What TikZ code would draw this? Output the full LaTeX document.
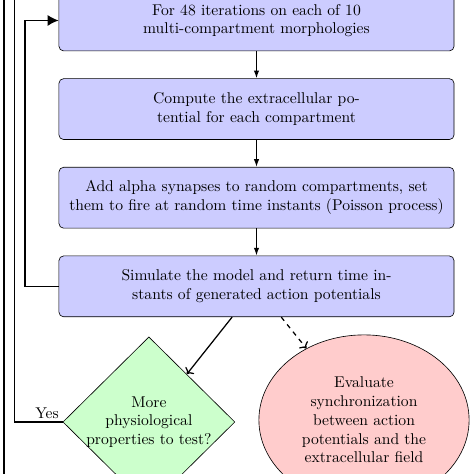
\documentclass[tikz,border=0pt]{standalone}
\usetikzlibrary{shapes.geometric, arrows.meta, positioning}

\begin{document}
\begin{tikzpicture}[
    process/.style={rectangle, draw, fill=blue!20, rounded corners=3pt, minimum width=8.89cm, minimum height=1.37cm, align=center},
    decision/.style={diamond, draw, fill=green!20, minimum width=3.87cm, minimum height=3.83cm, inner sep=-1pt, align=center},
    outcome/.style={ellipse, draw, fill=red!20, minimum width=4.73cm, minimum height=3.83cm, align=center},
    arrow/.style={-{Latex[length=5pt, width=3.5pt]}, thick},
    bigtip/.style={-{Latex[length=7pt, width=7pt]}, thick},
    flow/.style={->, thick},
    note/.style={inner sep=2pt}
]
    \useasboundingbox (0, 0) rectangle (10.665, 10.665);
    \clip (0, 0) rectangle (10.665, 10.665);

    % Main chain of steps
    \node[process] (iter) at (5.771, 10.204) {For 48 iterations on each of 10\\multi-compartment morphologies};
    \node[process, below=0.61cm of iter] (field) {Compute the extracellular po-\\tential for each compartment};
    \node[process, below=0.61cm of field] (synapse) {Add alpha synapses to random compartments, set\\them to fire at random time instants (Poisson process)};
    \node[process, below=0.61cm of synapse] (simulate) {Simulate the model and return time in-\\stants of generated action potentials};
    \draw[arrow] (iter) -- (field);
    \draw[arrow] (field) -- (synapse);
    \draw[arrow] (synapse) -- (simulate);

    % Decision and evaluation
    \node[decision] (more) at (3.35, 1.17) {More\\physiological\\properties to test?};
    \node[outcome] (evaluate) at (8.19, 1.215) {Evaluate\\synchronization\\between action\\potentials and the\\extracellular field};
    \draw[flow] (simulate) -- (more);
    \draw[flow, dashed] (simulate) -- (evaluate);

    % Loops back on the left
    \draw[bigtip] (simulate.west) -- ++(-0.754, 0) |- (iter.west);
    \coordinate (yes_top) at (0.326, 11.5);
    \draw[thick] (more.west) node[above left, note] {Yes} -| (yes_top);
    \coordinate (outer_top) at (0.09, 11.5);
    \coordinate (outer_bot) at (0.09, -0.5);
    \draw[thick] (outer_top) -- (outer_bot);
\end{tikzpicture}
\end{document}
